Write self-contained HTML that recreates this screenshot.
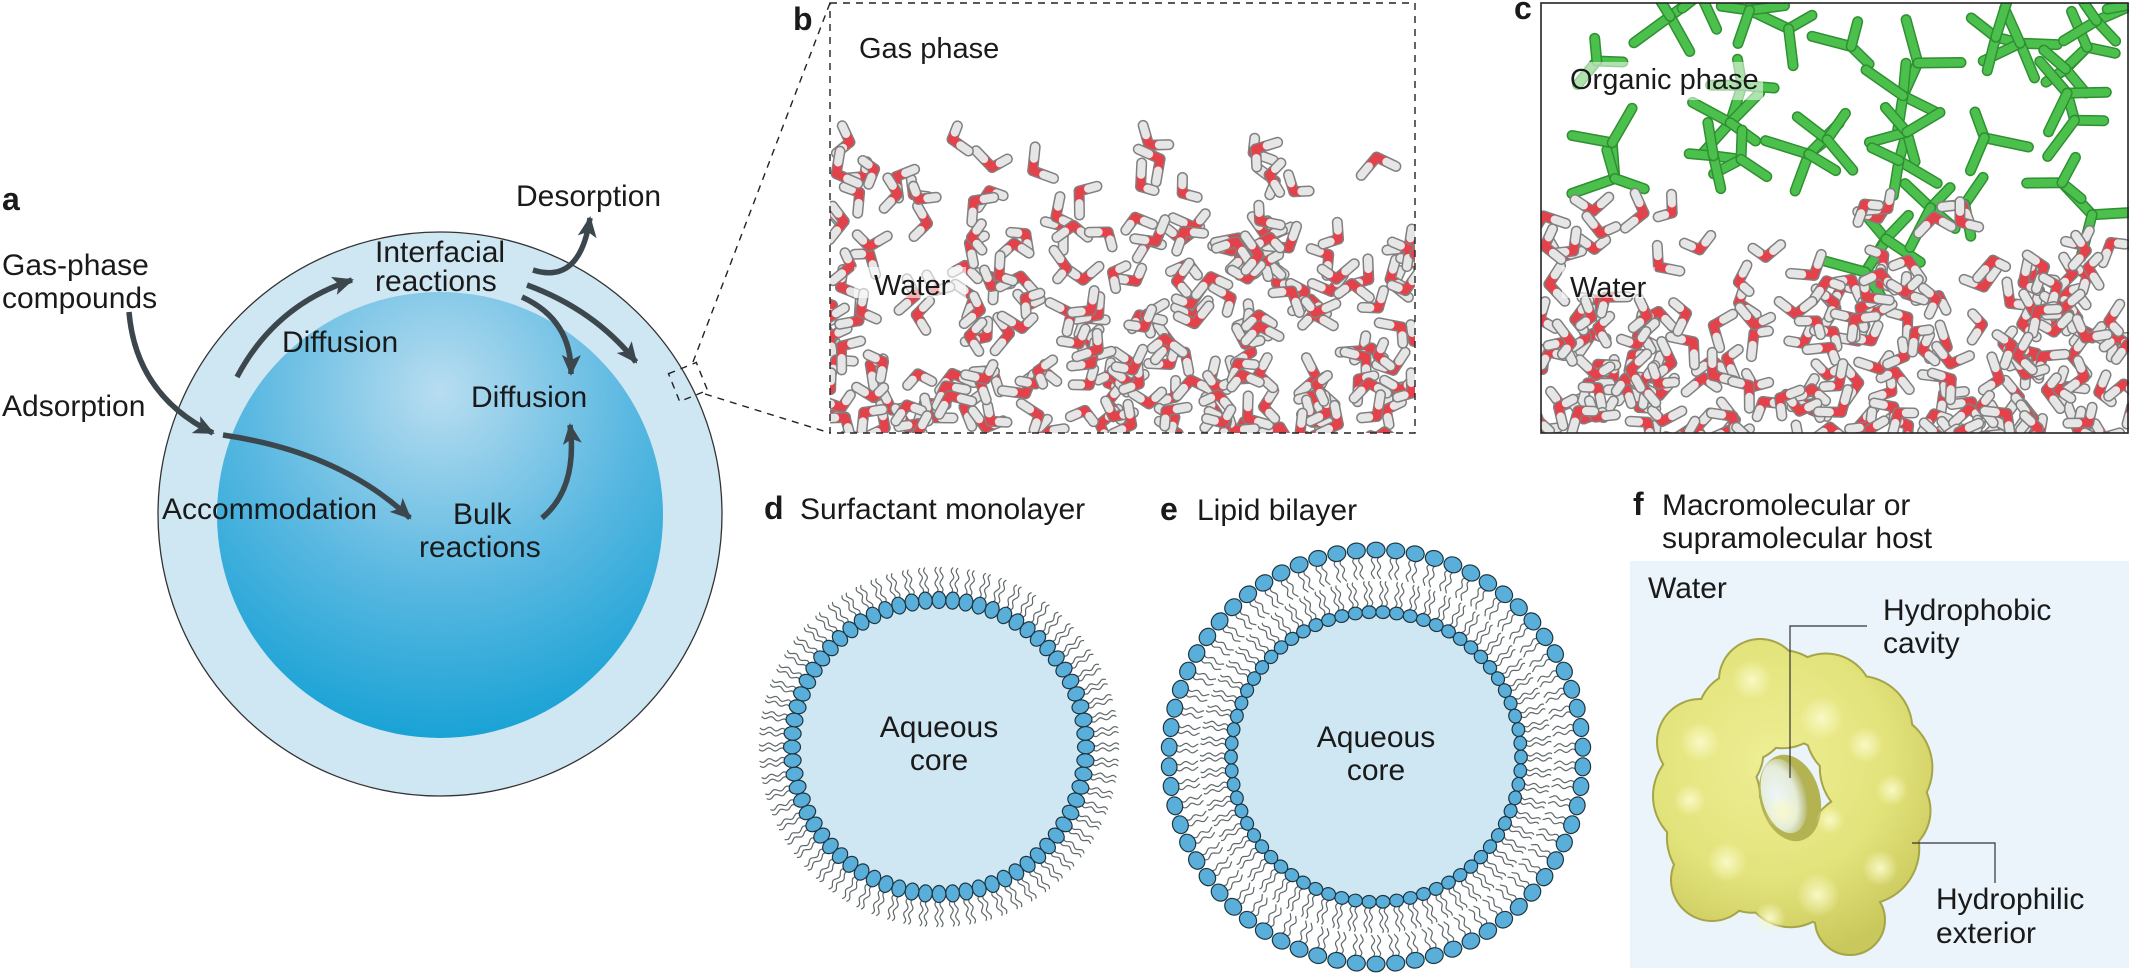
<!DOCTYPE html>
<html><head><meta charset="utf-8">
<style>
html,body{margin:0;padding:0;background:#fff;}
svg{display:block;}
text{font-family:"Liberation Sans",sans-serif;fill:#1a1a1a;}
.b{font-weight:bold;}
</style></head>
<body>
<svg id="s" width="2129" height="975" viewBox="0 0 2129 975" xmlns="http://www.w3.org/2000/svg">
<defs>
<radialGradient id="ig" gradientUnits="userSpaceOnUse" cx="440" cy="392" r="350">
<stop offset="0" stop-color="#b8ddf0"/><stop offset="0.55" stop-color="#5ab8e1"/><stop offset="1" stop-color="#18a2d5"/>
</radialGradient>
<radialGradient id="yg" gradientUnits="userSpaceOnUse" cx="1770" cy="760" r="200">
<stop offset="0" stop-color="#eeee94"/><stop offset="0.6" stop-color="#e3e37c"/><stop offset="1" stop-color="#c8c85c"/>
</radialGradient>
<radialGradient id="hl" cx="0.5" cy="0.5" r="0.5">
<stop offset="0" stop-color="#fafac8" stop-opacity="0.95"/><stop offset="1" stop-color="#fafac8" stop-opacity="0"/>
</radialGradient>
<radialGradient id="hole" cx="0.35" cy="0.5" r="0.7">
<stop offset="0" stop-color="#eef6fb"/><stop offset="0.6" stop-color="#e4ecd8"/><stop offset="1" stop-color="#a9a94c"/>
</radialGradient>
<marker id="ah" viewBox="-22 -12 26 24" markerWidth="26" markerHeight="24" refX="0" refY="0" orient="auto" markerUnits="userSpaceOnUse">
<path d="M2,0 L-19,-9.5 L-14,0 L-19,9.5 Z" fill="#3b474c"/>
</marker>
<clipPath id="cb"><rect x="830" y="3" width="585" height="430"/></clipPath>
<clipPath id="cc"><rect x="1541" y="3" width="588" height="430"/></clipPath>
</defs>

<!-- Panel a -->
<text x="2" y="210" class="b" font-size="32">a</text>
<circle cx="440" cy="514" r="282" fill="#cfe6f3" stroke="#333" stroke-width="1.3"/>
<circle cx="440" cy="515" r="223" fill="url(#ig)"/>
<g fill="none" stroke="#3b474c" stroke-width="5.5" marker-end="url(#ah)">
<path d="M129,312 Q136,395 213,433"/>
<path d="M223,435 Q340,452 410,518"/>
<path d="M237,377 Q275,305 352,280"/>
<path d="M533,270 Q580,285 590,218"/>
<path d="M522,297 Q572,320 571,374"/>
<path d="M527,285 Q595,310 636,362"/>
<path d="M542,518 Q578,488 570,425"/>
</g>
<text x="516" y="206" font-size="30">Desorption</text>
<text x="2" y="275" font-size="30">Gas-phase</text>
<text x="2" y="308" font-size="30">compounds</text>
<text x="2" y="416" font-size="30">Adsorption</text>
<text x="375" y="262" font-size="30">Interfacial</text>
<text x="375" y="291" font-size="30">reactions</text>
<text x="282" y="352" font-size="30">Diffusion</text>
<text x="471" y="407" font-size="30">Diffusion</text>
<text x="162" y="519" font-size="30">Accommodation</text>
<text x="453" y="524" font-size="30">Bulk</text>
<text x="419" y="557" font-size="30">reactions</text>
<g fill="none" stroke="#222" stroke-width="1.4" stroke-dasharray="7,6">
<rect x="673" y="367" width="30" height="30" transform="rotate(-22 688 382)"/>
<line x1="693" y1="362" x2="830" y2="3"/>
<line x1="705" y1="394" x2="830" y2="433"/>
</g>

<!-- Panel b -->
<text x="793" y="30" class="b" font-size="32">b</text>
<g id="gB" clip-path="url(#cb)"></g>
<rect x="854" y="267" width="112" height="31" fill="#fff" opacity="0.6"/>
<rect x="830" y="3" width="585" height="430" fill="none" stroke="#222" stroke-width="1.4" stroke-dasharray="7,6"/>
<text x="859" y="58" font-size="29">Gas phase</text>
<text x="874" y="295" font-size="29">Water</text>

<!-- Panel c -->
<text x="1514" y="19" class="b" font-size="32">c</text>
<g id="gC" clip-path="url(#cc)"></g>
<rect x="1541" y="62" width="222" height="38" fill="#fff" opacity="0.55"/>
<rect x="1562" y="267" width="93" height="31" fill="#fff" opacity="0.6"/>
<rect x="1541" y="3" width="587" height="430" fill="none" stroke="#222" stroke-width="1.6"/>
<text x="1570" y="89" font-size="29">Organic phase</text>
<text x="1570" y="297" font-size="29">Water</text>

<!-- Panel d -->
<text x="764" y="519" class="b" font-size="32">d</text>
<text x="800" y="519" font-size="30">Surfactant monolayer</text>
<circle cx="939" cy="747" r="147" fill="#cfe6f3"/>
<g id="gD"></g>
<text x="939" y="737" font-size="30" text-anchor="middle">Aqueous</text>
<text x="939" y="770" font-size="30" text-anchor="middle">core</text>

<!-- Panel e -->
<text x="1160" y="520" class="b" font-size="32">e</text>
<text x="1197" y="520" font-size="30">Lipid bilayer</text>
<circle cx="1376" cy="757" r="145" fill="#cfe6f3"/>
<g id="gE"></g>
<text x="1376" y="747" font-size="30" text-anchor="middle">Aqueous</text>
<text x="1376" y="780" font-size="30" text-anchor="middle">core</text>

<!-- Panel f -->
<text x="1633" y="515" class="b" font-size="32">f</text>
<text x="1662" y="515" font-size="30">Macromolecular or</text>
<text x="1662" y="548" font-size="30">supramolecular host</text>
<rect x="1630" y="561" width="499" height="407" fill="#eaf4fa"/>
<text x="1648" y="598" font-size="30">Water</text>
<g id="gF"></g>
<g fill="none" stroke="#333" stroke-width="1.2">
<polyline points="1867,626 1790,626 1790,778"/>
<polyline points="1912,843 1995,843 1995,883"/>
</g>
<text x="1883" y="620" font-size="30">Hydrophobic</text>
<text x="1883" y="653" font-size="30">cavity</text>
<text x="1936" y="909" font-size="30">Hydrophilic</text>
<text x="1936" y="943" font-size="30">exterior</text>
</svg>
<script>
(function(){
var NS="http://www.w3.org/2000/svg";
var seed=12345;
function rnd(){seed|=0;seed=seed+0x6D2B79F5|0;var t=Math.imul(seed^seed>>>15,1|seed);t=t+Math.imul(t^t>>>7,61|t)^t;return((t^t>>>14)>>>0)/4294967296;}
function el(tag,attrs,parent){var e=document.createElementNS(NS,tag);for(var k in attrs)e.setAttribute(k,attrs[k]);parent.appendChild(e);return e;}
function line(g,x1,y1,x2,y2,c,w){el("line",{x1:x1.toFixed(1),y1:y1.toFixed(1),x2:x2.toFixed(1),y2:y2.toFixed(1),stroke:c,"stroke-width":w,"stroke-linecap":"round"},g);}
function water(g,x,y){
  var a=rnd()*Math.PI*2, b=a+1.82, L1=14+rnd()*10, L2=14+rnd()*10;
  var hx1=x+Math.cos(a)*L1,hy1=y+Math.sin(a)*L1,hx2=x+Math.cos(b)*L2,hy2=y+Math.sin(b)*L2;
  line(g,x,y,hx1,hy1,"#808080",11);line(g,x,y,hx2,hy2,"#808080",11);
  line(g,x,y,(x+hx1)/2,(y+hy1)/2,"#e4424a",8);line(g,x,y,(x+hx2)/2,(y+hy2)/2,"#e4424a",8);
  line(g,(x+hx1)/2,(y+hy1)/2,hx1,hy1,"#e6e6e6",8);line(g,(x+hx2)/2,(y+hy2)/2,hx2,hy2,"#e6e6e6",8);
}
var gB=document.getElementById("gB");
for(var i=0;i<240;i++){var x=826+rnd()*595, y=138+Math.pow(rnd(),0.85)*300; if(y<165&&rnd()<0.5)continue; water(gB,x,y);}
var gC=document.getElementById("gC");
function green(g,x,y,depth){
  var n=3+(rnd()<0.4?1:0), a0=rnd()*Math.PI*2;
  for(var k=0;k<n;k++){
    var a=a0+k*2*Math.PI/n+(rnd()-0.5)*0.6, L=22+rnd()*24;
    var ex=x+Math.cos(a)*L, ey=y+Math.sin(a)*L;
    line(g,x,y,ex,ey,"#2f8f32",11);line(g,x,y,ex,ey,"#4cc04c",8);
    if(depth<1&&k==0&&rnd()<0.75)green(g,ex,ey,depth+1);
  }
}
var gcenters=[[1600,60],[1680,25],[1740,80],[1790,20],[1860,40],[1920,70],[1990,30],[2060,60],[2100,15],[1620,150],[1720,160],[1830,135],[1900,160],[1990,140],[2070,130],[2100,220],[1880,230],[1960,210]];
for(var i=0;i<gcenters.length;i++)green(gC,gcenters[i][0]+(rnd()-0.5)*20,gcenters[i][1]+(rnd()-0.5)*20,0);
for(var i=0;i<230;i++){var x=1535+rnd()*600, y=180+Math.pow(rnd(),0.6)*262; if(y<245&&rnd()<0.55)continue; water(gC,x,y);}
function tail(g,cx,cy,th,r0,r1,off){
  var d="",n=16,ct=Math.cos(th),st=Math.sin(th);
  for(var j=0;j<=n;j++){var t=j/n,r=r0+(r1-r0)*t,l=off+1.6*Math.sin(2*Math.PI*(r-r0)/13);
    var px=cx+r*ct-l*st, py=cy+r*st+l*ct; d+=(j?"L":"M")+px.toFixed(1)+","+py.toFixed(1);}
  el("path",{d:d,fill:"none",stroke:"#5f686b","stroke-width":1.2},g);
}
function heads(g,cx,cy,R,n,rr,rt,ph){
  for(var k=0;k<n;k++){var th=2*Math.PI*k/n+ph,x=cx+R*Math.cos(th),y=cy+R*Math.sin(th);
    el("ellipse",{cx:x.toFixed(1),cy:y.toFixed(1),rx:rr,ry:rt,transform:"rotate("+(th*180/Math.PI).toFixed(1)+" "+x.toFixed(1)+" "+y.toFixed(1)+")",fill:"#5aafda",stroke:"#1f3540","stroke-width":1.2},g);}
}
var gD=document.getElementById("gD");
var nd=68;
for(var k=0;k<nd;k++){var th=2*Math.PI*k/nd;tail(gD,939,747,th,154,180,-2.5);tail(gD,939,747,th,154,180,2.5);}
heads(gD,939,747,147,nd,8.5,6.8,0);
var gE=document.getElementById("gE");
var ne=66;
for(var k=0;k<ne;k++){var th=2*Math.PI*k/ne;
  tail(gE,1376,757,th,151,176,-2.5);tail(gE,1376,757,th,151,176,2.5);
  var th2=th+Math.PI/ne;tail(gE,1376,757,th2,200,178,-3);tail(gE,1376,757,th2,200,178,3);}
heads(gE,1376,757,145,ne,6.3,7,0);
heads(gE,1376,757,207,ne,7.8,9,Math.PI/ne);
// panel f blob: ring of spheres
var gF=document.getElementById("gF");
var bumps=[];
var nb=13;
for(var k=0;k<nb;k++){var a=2*Math.PI*k/nb+0.2;var rr=86+(rnd()-0.5)*14;
  bumps.push([1797+rr*Math.cos(a)*1.0,792+rr*Math.sin(a)*1.05,44+rnd()*14]);}
bumps.push([1700,742,42],[1760,680,40],[1880,800,44],[1850,920,34],[1712,880,40]);
var i;
for(i=0;i<bumps.length;i++)el("circle",{cx:bumps[i][0].toFixed(1),cy:bumps[i][1].toFixed(1),r:bumps[i][2].toFixed(1),fill:"#b0b04e",stroke:"#a5a548","stroke-width":4},gF);
for(i=0;i<bumps.length;i++)el("circle",{cx:bumps[i][0].toFixed(1),cy:bumps[i][1].toFixed(1),r:bumps[i][2].toFixed(1),fill:"url(#yg)"},gF);
// hole
el("ellipse",{cx:1790,cy:798,rx:30,ry:44,fill:"#b3b352",transform:"rotate(-15 1790 798)"},gF);
el("ellipse",{cx:1784,cy:796,rx:22,ry:38,fill:"url(#hole)",transform:"rotate(-15 1784 796)"},gF);
var hls=[[1752,680,20],[1700,742,20],[1822,718,22],[1865,745,18],[1783,812,18],[1892,790,16],[1818,895,22],[1727,862,20],[1880,868,18],[1770,918,16],[1690,800,16],[1830,820,14]];
for(i=0;i<hls.length;i++)el("circle",{cx:hls[i][0],cy:hls[i][1],r:hls[i][2],fill:"url(#hl)"},gF);
})();
</script>
</body></html>
